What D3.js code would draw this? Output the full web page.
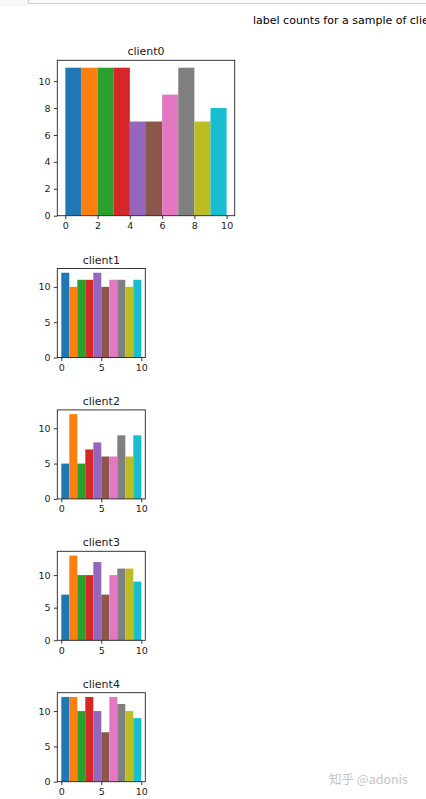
<!DOCTYPE html>
<html>
<head>
<meta charset="utf-8">
<script src="https://cdn.jsdelivr.net/npm/d3@7"></script>
<style>
  html, body { margin: 0; padding: 0; background: #fff; }
  svg { display: block; }
</style>
</head>
<body>
<svg id="chart" width="426" height="799"></svg>
<script>
// ---- data ----
const labels = [0, 1, 2, 3, 4, 5, 6, 7, 8, 9];
const clientNames = ["client0", "client1", "client2", "client3", "client4"];
const counts0 = [11, 11, 11, 11, 7, 7, 9, 11, 7, 8];
const counts1 = [12, 10, 11, 11, 12, 10, 11, 11, 10, 11];
const counts2 = [5, 12, 5, 7, 8, 6, 6, 9, 6, 9];
const counts3 = [7, 13, 10, 10, 12, 7, 10, 11, 11, 9];
const counts4 = [12, 12, 10, 12, 10, 7, 12, 11, 10, 9];
const xTicksBig = [0, 2, 4, 6, 8, 10];
const yTicksBig = [0, 2, 4, 6, 8, 10];
const xTicksSmall = [0, 5, 10];
const yTicksSmall = [0, 5, 10];
const suptitle = "label counts for a sample of clients";
const watermark = "知乎 @adonis";
const colors = ["#1f77b4", "#ff7f0e", "#2ca02c", "#d62728", "#9467bd",
                "#8c564b", "#e377c2", "#7f7f7f", "#bcbd22", "#17becf"];

const allCounts = [counts0, counts1, counts2, counts3, counts4];

const svg = d3.select("#chart");
const FONT = "DejaVu Sans, sans-serif";

// notebook cell frame remnant at top
svg.append("rect").attr("x", 0).attr("y", 0).attr("width", 28).attr("height", 6)
  .attr("fill", "#f7f7f7");
svg.append("rect").attr("x", 28.5).attr("y", -10).attr("width", 420).attr("height", 13.5)
  .attr("fill", "#fbfbfb").attr("stroke", "#cfcfcf").attr("stroke-width", 1);

// suptitle (clipped at right edge naturally)
svg.append("text").attr("x", 253).attr("y", 24.3)
  .attr("font-family", FONT).attr("font-size", 11).attr("fill", "#000")
  .text(suptitle);

// panel layout
const panels = [
  { left: 57.3, top: 60.3, width: 177.4, height: 155.4, xt: xTicksBig, yt: yTicksBig }
];
for (let i = 1; i < 5; i++) {
  panels.push({ left: 57.3, top: 268.5 + (i - 1) * 141.4, width: 88, height: 89,
                xt: xTicksSmall, yt: yTicksSmall });
}

panels.forEach((p, i) => {
  const data = allCounts[i];
  const g = svg.append("g").attr("transform", `translate(${p.left},${p.top})`);
  const x = d3.scaleLinear().domain([-0.5, 10.5]).range([0, p.width]);
  const ymax = d3.max(data) * 1.05;
  const y = d3.scaleLinear().domain([0, ymax]).range([p.height, 0]);

  g.selectAll("rect.bar").data(labels).join("rect")
    .attr("class", "bar")
    .attr("x", d => x(d))
    .attr("width", d => x(d + 1) - x(d))
    .attr("y", (d, j) => y(data[j]))
    .attr("height", (d, j) => y(0) - y(data[j]))
    .attr("fill", (d, j) => colors[j]);

  // frame
  g.append("rect").attr("x", 0).attr("y", 0).attr("width", p.width).attr("height", p.height)
    .attr("fill", "none").attr("stroke", "#222").attr("stroke-width", 0.9);

  const xAxis = d3.axisBottom(x).tickValues(p.xt).tickSize(3.5).tickPadding(3.2)
    .tickFormat(d3.format("d"));
  const yAxis = d3.axisLeft(y).tickValues(p.yt).tickSize(3.5).tickPadding(3.2)
    .tickFormat(d3.format("d"));

  const gx = g.append("g").attr("transform", `translate(0,${p.height})`).call(xAxis);
  const gy = g.append("g").call(yAxis);
  [gx, gy].forEach(a => {
    a.select(".domain").remove();
    a.selectAll("line").attr("stroke", "#222").attr("stroke-width", 0.9);
    a.selectAll("text").attr("font-family", FONT).attr("font-size", 9.5).attr("fill", "#222");
  });

  g.append("text").attr("x", p.width / 2).attr("y", -5)
    .attr("text-anchor", "middle")
    .attr("font-family", FONT).attr("font-size", 11).attr("fill", "#222")
    .text(clientNames[i]);
});

// watermark
svg.append("text").attr("x", 329).attr("y", 783.5)
  .attr("font-family", "Noto Sans CJK SC, sans-serif").attr("font-size", 12.5)
  .attr("fill", "#c4c4c4")
  .text(watermark);
</script>
</body>
</html>
